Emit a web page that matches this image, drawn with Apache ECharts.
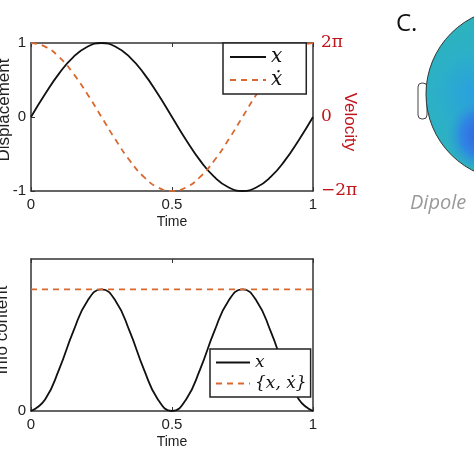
<!DOCTYPE html>
<html><head><meta charset="utf-8">
<script src="https://cdn.jsdelivr.net/npm/echarts@6/dist/echarts.min.js"></script>
<style>html,body{margin:0;padding:0;background:#fff}#c{width:474px;height:474px}</style>
</head><body><div id="c"></div>
<script>
const times = [0,0.05,0.1,0.15,0.2,0.25,0.3,0.35,0.4,0.45,0.5,0.55,0.6,0.65,0.7,0.75,0.8,0.85,0.9,0.95,1];
const displacement = [0,0.31,0.59,0.81,0.95,1,0.95,0.81,0.59,0.31,0,-0.31,-0.59,-0.81,-0.95,-1,-0.95,-0.81,-0.59,-0.31,0];
const velocity = [6.28,5.98,5.08,3.69,1.94,0,-1.94,-3.69,-5.08,-5.98,-6.28,-5.98,-5.08,-3.69,-1.94,0,1.94,3.69,5.08,5.98,6.28];
const infoX = [0,0.095,0.345,0.655,0.905,1,0.905,0.655,0.345,0.095,0,0.095,0.345,0.655,0.905,1,0.905,0.655,0.345,0.095,0];
const infoXV = [1,1,1,1,1,1,1,1,1,1,1,1,1,1,1,1,1,1,1,1,1];
const timeTicks = ['0','0.5','1'];
const velTicks = {'6.2832':'2π','0':'0','-6.2832':'−2π'};

const pairs = a => times.map((t,i)=>[t,a[i]]);
const black='#111', orange='#d9682f', red='#c0141c';
const ax = {color:'#222',fontSize:15,fontFamily:'Liberation Sans'};
const line = {onZero:false,lineStyle:{color:'#333',width:1.5}};
const xBottom = g => ({gridIndex:g,type:'value',min:0,max:1,interval:0.5,name:'Time',nameLocation:'middle',nameGap:24,nameTextStyle:{fontSize:14,color:'#222',fontFamily:'Liberation Sans'},
     axisLine:line,axisTick:{inside:true,length:4},splitLine:{show:false},axisLabel:{...ax,margin:6,formatter:v=>timeTicks[Math.round(v*2)]}});
const xTop = g => ({gridIndex:g,type:'value',position:'top',min:0,max:1,interval:0.5,axisLine:line,axisTick:{inside:true,length:4},axisLabel:{show:false},splitLine:{show:false}});
const vtext = (x,y,t,rot,color) => ({type:'text',x:x,y:y,rotation:rot,style:{text:t,fontSize:17,fontFamily:'Liberation Sans',fill:color,align:'center',verticalAlign:'middle'}});
const chart = echarts.init(document.getElementById('c'));
chart.setOption({
  animation:false,
  grid:[{left:31,top:43,width:282,height:148,containLabel:false,outerBoundsMode:'none'},{left:31,top:259,width:282,height:152,containLabel:false,outerBoundsMode:'none'}],
  xAxis:[xBottom(0),xTop(0),xBottom(1),xTop(1)],
  yAxis:[
    {gridIndex:0,type:'value',min:-1,max:1,interval:1,
     axisLine:line,axisTick:{inside:true,length:4},splitLine:{show:false},axisLabel:{...ax,margin:5}},
    {gridIndex:0,type:'value',position:'right',min:-6.2832,max:6.2832,interval:6.2832,
     axisLine:line,axisTick:{show:false},splitLine:{show:false},
     axisLabel:{color:red,fontSize:17,fontFamily:'DejaVu Serif',margin:8,formatter:v=>velTicks[String(Math.round(v*10000)/10000)]||''}},
    {gridIndex:1,type:'value',min:0,max:1.25,interval:1.25,
     axisLine:line,axisTick:{show:false},splitLine:{show:false},
     axisLabel:{...ax,margin:5,formatter:v=>v===0?'0':''}},
    {gridIndex:1,type:'value',position:'right',min:0,max:1.25,axisLine:line,axisTick:{show:false},axisLabel:{show:false},splitLine:{show:false}}
  ],
  legend:[
    {data:['x','ẋ'],left:223,top:43,orient:'vertical',itemGap:3,itemWidth:36,itemHeight:10,padding:[4,24,4,6],borderColor:'#222',borderWidth:1.5,backgroundColor:'#fff',
     itemStyle:{opacity:0},textStyle:{fontFamily:'DejaVu Serif',fontStyle:'italic',fontSize:20,color:'#111'}},
    {data:['x ','{x, ẋ}'],left:210,top:349,orient:'vertical',itemGap:4,itemWidth:34,itemHeight:10,padding:[5,4,5,5],borderColor:'#222',borderWidth:1.5,backgroundColor:'#fff',
     itemStyle:{opacity:0},textStyle:{fontFamily:'DejaVu Serif',fontStyle:'italic',fontSize:17,color:'#111'}}
  ],
  series:[
    {name:'x',type:'line',xAxisIndex:0,yAxisIndex:0,data:pairs(displacement),smooth:0.5,symbol:'none',lineStyle:{color:black,width:1.8},itemStyle:{color:black}},
    {name:'ẋ',type:'line',xAxisIndex:0,yAxisIndex:1,data:pairs(velocity),smooth:0.5,symbol:'none',lineStyle:{color:orange,width:1.8,type:[6,5]},itemStyle:{color:orange}},
    {name:'x ',type:'line',xAxisIndex:2,yAxisIndex:2,data:pairs(infoX),smooth:0.5,symbol:'none',lineStyle:{color:black,width:1.8},itemStyle:{color:black}},
    {name:'{x, ẋ}',type:'line',xAxisIndex:2,yAxisIndex:2,data:pairs(infoXV),symbol:'none',lineStyle:{color:orange,width:1.8,type:[6,5]},itemStyle:{color:orange}}
  ],
  graphic:[
    vtext(350,122,'Velocity',-Math.PI/2,red),
    vtext(4,110,'Displacement',Math.PI/2,'#222'),
    vtext(2,330,'Info content',Math.PI/2,'#222'),
    {type:'rect',shape:{x:418,y:83,width:9,height:36,r:4},style:{fill:'#fff',stroke:'#444',lineWidth:1}},
    {type:'circle',shape:{cx:512,cy:94,r:86},style:{fill:{type:'radial',x:0.3,y:0.5,r:0.8,colorStops:[{offset:0,color:'#2a9ee0'},{offset:0.3,color:'#2bb0c8'},{offset:1,color:'#33b7a6'}]},stroke:'#333',lineWidth:1}},
    {type:'circle',shape:{cx:478,cy:135,r:32},style:{fill:{type:'radial',x:0.6,y:0.5,r:0.6,colorStops:[{offset:0,color:'#3558e0'},{offset:0.6,color:'#2f86e4'},{offset:1,color:'rgba(45,160,210,0)'}]}}},
    {type:'text',left:396,top:12,style:{text:'C.',fontSize:24,fontFamily:'Open Sans',fill:'#111'}},
    {type:'text',left:410,top:193,style:{text:'Dipole',fontSize:20,fontStyle:'italic',fontFamily:'Open Sans',fill:'#999'}}
  ]
});
</script></body></html>
